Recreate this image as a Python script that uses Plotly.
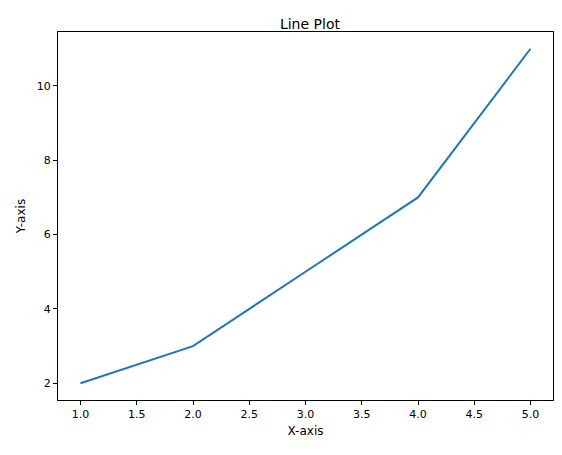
import plotly.graph_objects as go

x_vals = [1, 2, 3, 4, 5]
y_vals = [2, 3, 5, 7, 11]
x_ticks = [1.0, 1.5, 2.0, 2.5, 3.0, 3.5, 4.0, 4.5, 5.0]
y_ticks = [2, 4, 6, 8, 10]

fig = go.Figure(go.Scatter(x=x_vals, y=y_vals, mode="lines",
                           line=dict(color="#1f77b4", width=2)))

axis_style = dict(showline=True, linecolor="black", linewidth=1, mirror=True,
                  ticks="outside", ticklen=4, tickcolor="black", showgrid=False,
                  zeroline=False, tickfont=dict(size=11, color="black"),
                  title_font=dict(size=12, color="black"))

# page body has an 8px margin, so the figure is sized/offset to compensate
fig.update_layout(
    width=554, height=447,
    margin=dict(l=50, r=9, t=24, b=55),
    paper_bgcolor="white", plot_bgcolor="white",
    font=dict(family="DejaVu Sans", color="black"),
    title=dict(text="Line Plot", x=0.545, xanchor="center", y=0.975,
               font=dict(size=14, color="black")),
    showlegend=False,
)
fig.update_xaxes(range=[0.8, 5.2], tickvals=x_ticks,
                 ticktext=[f"{v:.1f}" for v in x_ticks],
                 title=dict(text="X-axis", standoff=6), **axis_style)
fig.update_yaxes(range=[1.55, 11.45], tickvals=y_ticks,
                 title=dict(text="Y-axis", standoff=8), **axis_style)

fig.write_html("out.html")
